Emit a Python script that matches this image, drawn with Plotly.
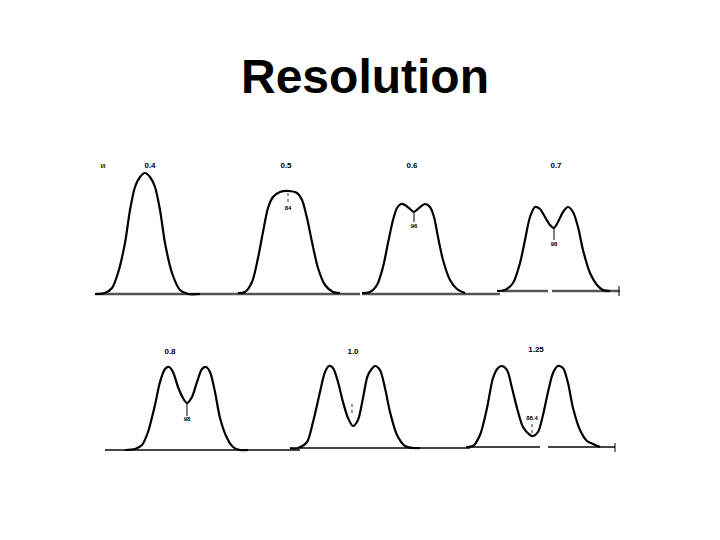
import plotly.graph_objects as go

# Resolution labels for each chromatogram
rs_labels = ["0.4", "0.5", "0.6", "0.7", "0.8", "1.0", "1.25"]
label_x = [150, 286, 412, 556, 170, 353, 536]
label_y = [166, 166, 166, 166, 352, 352, 350]

# Chromatogram traces (image pixel units)
c1_x = [95, 105, 112, 118, 125, 130, 135, 140, 145, 150, 155, 160, 165, 172, 180, 188, 200]
c1_y = [294, 293, 288, 273, 243, 210, 187, 177, 173, 177, 187, 210, 243, 273, 290, 294, 294]

c2_x = [238, 245, 252, 258, 263, 268, 273, 280, 288, 297, 302, 307, 312, 318, 325, 333, 340]
c2_y = [293, 292, 282, 258, 232, 208, 197, 192, 191, 193, 200, 218, 242, 268, 285, 292, 293]

c3_x = [362, 370, 377, 383, 388, 393, 397, 401, 405, 410, 414, 419, 425, 430, 434, 438, 443, 450, 457, 465]
c3_y = [293, 292, 285, 267, 243, 220, 208, 204, 205, 209, 212, 208, 204, 207, 217, 237, 260, 280, 289, 293]

c4_x = [497, 505, 513, 520, 525, 530, 535, 540, 545, 550, 554, 558, 563, 568, 573, 578, 583, 590, 597, 603, 610]
c4_y = [291, 290, 283, 263, 240, 217, 207, 209, 217, 225, 228, 222, 212, 207, 212, 227, 250, 273, 285, 290, 291]

c5_x = [125, 135, 142, 148, 155, 160, 165, 169, 173, 178, 183, 187, 192, 197, 202, 206, 210, 215, 220, 227, 233, 240, 248]
c5_y = [450, 449, 445, 432, 405, 382, 369, 367, 372, 387, 398, 403, 397, 382, 369, 367, 372, 392, 418, 438, 447, 450, 450]

c6_x = [290, 298, 307, 313, 320, 325, 329, 333, 338, 343, 348, 353, 358, 363, 368, 375, 380, 385, 390, 397, 405, 413, 420]
c6_y = [448, 448, 442, 422, 392, 372, 366, 368, 382, 402, 418, 426, 420, 398, 375, 366, 370, 388, 412, 435, 446, 448, 448]

c7_x = [466, 473, 480, 487, 493, 498, 502, 507, 512, 517, 523, 530, 533, 538, 543, 548, 553, 558, 563, 568, 573, 580, 587, 593, 600]
c7_y = [447, 446, 435, 408, 378, 368, 366, 370, 388, 408, 427, 435, 436, 432, 415, 392, 373, 366, 368, 383, 408, 430, 441, 444, 447]

curves = [(c1_x, c1_y), (c2_x, c2_y), (c3_x, c3_y), (c4_x, c4_y),
          (c5_x, c5_y), (c6_x, c6_y), (c7_x, c7_y)]

# Baselines (segments)
base_top_x = [95, 360, None, 362, 500, None, 502, 548, None, 552, 620]
base_top_y = [294, 294, None, 294, 294, None, 291, 291, None, 291, 291]
base_bot_x = [105, 300, None, 300, 470, None, 472, 540, None, 548, 615]
base_bot_y = [450, 450, None, 448, 448, None, 447, 447, None, 447, 447]

# Valley markers
mark_x = [414, 414, None, 554, 554, None, 187, 187, None, 619, 619, None, 615, 615]
mark_y = [212, 222, None, 228, 240, None, 403, 416, None, 286, 296, None, 443, 452]
dot_x = [288, 288, None, 352, 352, None, 532, 532]
dot_y = [193, 202, None, 404, 414, None, 424, 433]
small_txt = ["84", "96", "98", "98", "88.4", "I/I"]
small_x = [288, 414, 554, 187, 532, 103]
small_y = [208, 226, 244, 419, 418, 166]

# Page body adds an 8 px offset; shift the ranges to compensate
OFF = 8

fig = go.Figure()

fig.add_trace(go.Scatter(x=base_top_x, y=base_top_y, mode="lines",
                         line=dict(color="#555555", width=2.5), hoverinfo="skip"))
fig.add_trace(go.Scatter(x=base_bot_x, y=base_bot_y, mode="lines",
                         line=dict(color="#444444", width=2), hoverinfo="skip"))

for cx, cy in curves:
    fig.add_trace(go.Scatter(x=cx, y=cy, mode="lines",
                             line=dict(color="black", width=2.2, shape="spline", smoothing=0.8),
                             hoverinfo="skip"))

fig.add_trace(go.Scatter(x=mark_x, y=mark_y, mode="lines",
                         line=dict(color="black", width=1), hoverinfo="skip"))
fig.add_trace(go.Scatter(x=dot_x, y=dot_y, mode="lines",
                         line=dict(color="#777777", width=1.5, dash="dot"), hoverinfo="skip"))

fig.add_trace(go.Scatter(x=label_x, y=label_y, mode="text",
                         text=["<b>%s</b>" % t for t in rs_labels],
                         textfont=dict(family="Liberation Sans", size=8, color="black"),
                         hoverinfo="skip"))
fig.add_trace(go.Scatter(x=small_x, y=small_y, mode="text",
                         text=["<b>%s</b>" % t for t in small_txt],
                         textfont=dict(family="Liberation Sans", size=6, color="black"),
                         hoverinfo="skip"))

fig.add_annotation(x=365, y=76, text="<b>Resolution</b>", showarrow=False,
                   font=dict(family="Liberation Sans", size=48, color="black"),
                   xref="x", yref="y")

fig.update_layout(
    width=720, height=540,
    margin=dict(l=0, r=0, t=0, b=0),
    paper_bgcolor="white", plot_bgcolor="white",
    showlegend=False,
    xaxis=dict(range=[OFF, 720 + OFF], visible=False, fixedrange=True),
    yaxis=dict(range=[540 + OFF, OFF], visible=False, fixedrange=True),
)

fig.write_html("out.html")
